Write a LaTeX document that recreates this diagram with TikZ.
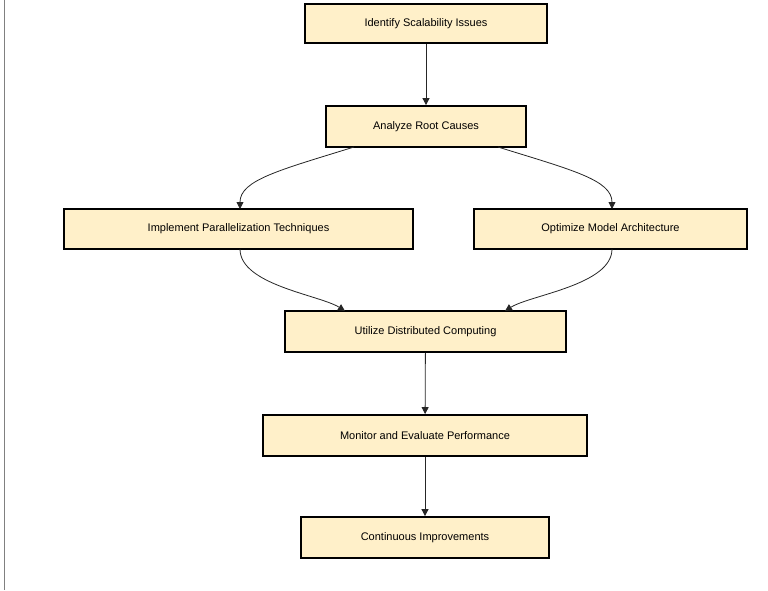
\documentclass[tikz,border=0pt]{standalone}
\usepackage{fontspec}
\setmainfont{Liberation Sans}
\usetikzlibrary{arrows.meta}
\definecolor{boxfill}{HTML}{FFF0C9}
\begin{document}
\begin{tikzpicture}[x=1pt,y=-1pt,
  box/.style={draw=black,line width=1.8pt,fill=boxfill,inner sep=0pt,font=\fontsize{11}{13}\selectfont},
  arr/.style={-{Triangle[length=7pt,width=7pt]},line width=0.8pt,draw=black!85}]
\useasboundingbox (0,0) rectangle (768,590);
\draw[gray,line width=1pt] (4,0) -- (4,590);
\node[box,minimum width=242pt,minimum height=39pt] (a) at (426,23.5) {Identify Scalability Issues};
\node[box,minimum width=200pt,minimum height=41pt] (b) at (426,126.5) {Analyze Root Causes};
\node[box,minimum width=349pt,minimum height=40pt] (c) at (238.5,229) {Implement Parallelization Techniques};
\node[box,minimum width=273pt,minimum height=40pt] (d) at (610.5,229) {Optimize Model Architecture};
\node[box,minimum width=281pt,minimum height=41pt] (e) at (425.5,331.5) {Utilize Distributed Computing};
\node[box,minimum width=324pt,minimum height=41pt] (f) at (425,435.5) {Monitor and Evaluate Performance};
\node[box,minimum width=248pt,minimum height=41pt] (g) at (425,537.5) {Continuous Improvements};
\coordinate (b1) at (354,147); \coordinate (b2) at (498,147);
\coordinate (c1) at (240,209); \coordinate (d1) at (612,209);
\coordinate (c2) at (240,249); \coordinate (d2) at (612,249);
\coordinate (e1) at (345,311); \coordinate (e2) at (505,311);
\draw[arr] (a) -- (b);
\draw[arr] (b1) .. controls (280,170) and (240,180) .. (c1);
\draw[arr] (b2) .. controls (572,170) and (612,180) .. (d1);
\draw[arr] (c2) .. controls (240,285) and (320,295) .. (e1);
\draw[arr] (d2) .. controls (612,285) and (530,295) .. (e2);
\draw[arr] (e) -- (f);
\draw[arr] (f) -- (g);
\end{tikzpicture}
\end{document}
